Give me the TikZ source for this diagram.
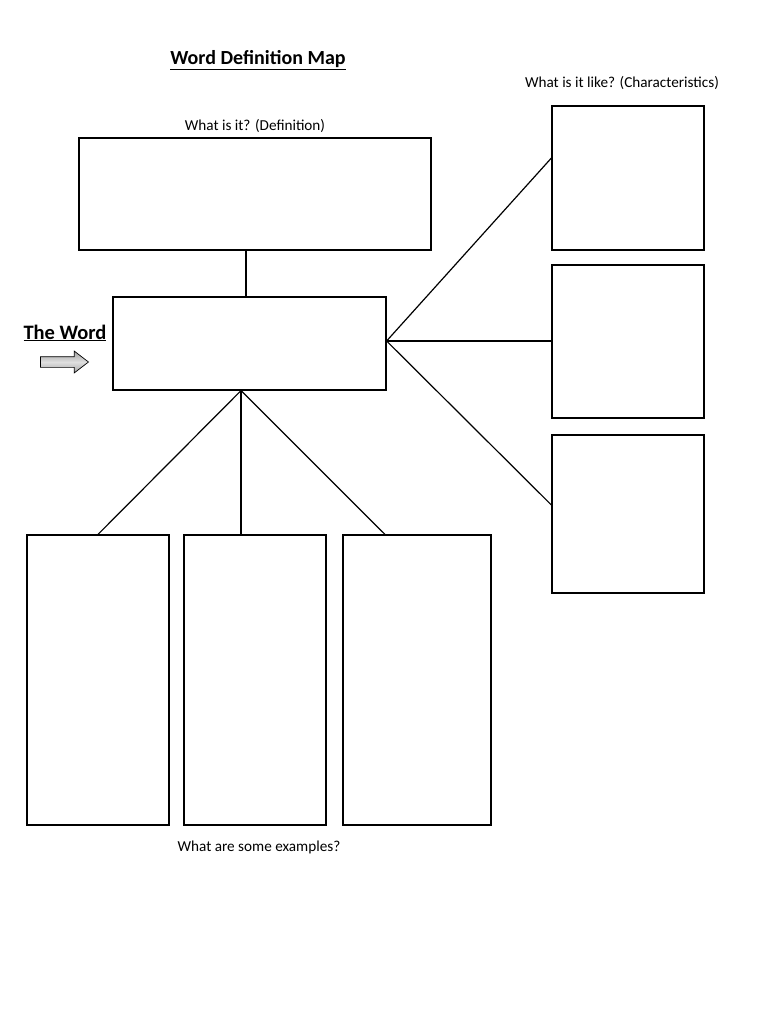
\documentclass[tikz,border=0pt]{standalone}
\usepackage{fontspec}
\setmainfont{Carlito}
\usepackage{tikz}
\usetikzlibrary{positioning}
\usetikzlibrary{shapes.arrows}
\tikzset{box/.style={draw,rectangle,line width=1.2pt,inner sep=0pt}}

\begin{document}
\begin{tikzpicture}[x=1pt,y=-1pt,
      on grid,
      line width=1.2pt,
      defbox/.style={box,minimum width=352pt,minimum height=112pt},
      wordbox/.style={box,minimum width=273pt,minimum height=93pt},
      charbox/.style={box,minimum width=152pt},
      examplebox/.style={box,minimum width=142pt,minimum height=290pt},
      caption/.style={font=\fontsize{15.2}{18}\selectfont,inner sep=0pt},
      heading/.style={font=\fontsize{20}{24}\selectfont\bfseries,inner sep=0pt}]

    \useasboundingbox (0,0) rectangle (768,1024);

    \node[wordbox]
      (Word) at (249.5,343.5) {};
    \node[defbox]
      (Definition) [above=149.5pt of Word, xshift=5.5pt] {};
    \node[charbox,minimum height=153pt]
      (CharB) [right=378.5pt of Word, yshift=2pt] {};
    \node[charbox,minimum height=144pt]
      (CharA) [above=163.5pt of CharB] {};
    \node[charbox,minimum height=158pt]
      (CharC) [below=172.5pt of CharB] {};
    \node[examplebox]
      (ExB) [below=336.5pt of Word, xshift=5.5pt] {};
    \node[examplebox]
      (ExA) [left=157pt of ExB] {};
    \node[examplebox,minimum width=148pt]
      (ExC) [right=162pt of ExB] {};

    % labels
    \node[heading]
      (Title) at (258,60) {\underline{Word Definition Map}};
    \node[caption]
      (DefText) [above=68pt of Definition] {What is it? (Definition)};
    \node[caption]
      (CharText) [above=95pt of CharA, xshift=-6pt] {What is it like? (Characteristics)};
    \node[caption]
      (ExText) [below=167pt of ExB, xshift=4pt] {What are some examples?};
    \node[heading,font=\fontsize{20.5}{24}\selectfont\bfseries]
      (WordText) [left=184.5pt of Word, yshift=10.5pt] {\underline{The Word}};
    \node[single arrow,draw,line width=0.7pt,
          minimum height=48pt,minimum width=21pt,inner sep=5pt,
          single arrow tip angle=75,single arrow head extend=5.5pt,
          top color=gray!75,bottom color=gray!70,middle color=gray!25]
      (Pointer) [below=29pt of WordText, xshift=-4pt] {};

    % connectors
    \coordinate (Stem) at ([xshift=-3.5pt]Word.north);
    \coordinate (Fan) at ([yshift=2.5pt]Word.east);
    \coordinate (Hub) at ([xshift=-8.5pt]Word.south);
    \draw[line width=2pt] (Stem) -- (Stem |- Definition.south);
    \draw (Fan) -- ([yshift=20pt]CharA.west);
    \draw[line width=2pt] (Fan) -- (Fan -| CharB.west);
    \draw (Fan) -- ([yshift=9pt]CharC.west);
    \draw (Hub) -- (ExA.north);
    \draw[line width=2pt] (Hub) -- ([xshift=-14pt]ExB.north);
    \draw (Hub) -- ([xshift=-32pt]ExC.north);

  \end{tikzpicture}
\end{document}
